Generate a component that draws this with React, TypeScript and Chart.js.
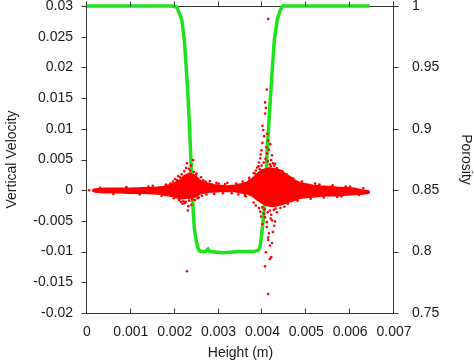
import { useEffect, useRef } from 'react';
import { Chart, registerables } from 'chart.js';

Chart.register(...registerables);

// ---- tick labels ----
const xTicks = [0, 0.001, 0.002, 0.003, 0.004, 0.005, 0.006, 0.007];
const xTickLabels = ['0', '0.001', '0.002', '0.003', '0.004', '0.005', '0.006', '0.007'];
const yTicks = [-0.02, -0.015, -0.01, -0.005, 0, 0.005, 0.01, 0.015, 0.02, 0.025, 0.03];
const yTickLabels = ['-0.02', '-0.015', '-0.01', '-0.005', '0', '0.005', '0.01', '0.015', '0.02', '0.025', '0.03'];
const y1Ticks = [0.75, 0.8, 0.85, 0.9, 0.95, 1];
const y1TickLabels = ['0.75', '0.8', '0.85', '0.9', '0.95', '1'];

// ---- porosity (green) ----
const porX = [0, 0.00195, 0.00205, 0.00216, 0.00222, 0.00226, 0.0023, 0.00233, 0.00236, 0.00239, 0.00242, 0.00245, 0.0025, 0.00254, 0.00258, 0.0027, 0.00276, 0.0028, 0.0031, 0.0035, 0.0038, 0.0039, 0.00394, 0.00397, 0.004, 0.00404, 0.00408, 0.00411, 0.00415, 0.00419, 0.00423, 0.00427, 0.00434, 0.0044, 0.00446, 0.00645];
const porY = [1, 1, 0.999, 0.989, 0.972, 0.951, 0.929, 0.907, 0.883, 0.858, 0.834, 0.818, 0.807, 0.802, 0.8, 0.8, 0.802, 0.8, 0.799, 0.8, 0.8, 0.801, 0.803, 0.81, 0.82, 0.834, 0.858, 0.883, 0.907, 0.929, 0.951, 0.972, 0.989, 0.996, 1, 1];

// ---- vertical velocity dense band (red) ----
const bandX = [0.00012, 0.00018, 0.0004, 0.0007, 0.001, 0.0013, 0.0016, 0.00175, 0.00185, 0.00194, 0.00203, 0.00212, 0.00218, 0.00223, 0.00229, 0.00235, 0.0024, 0.00246, 0.00252, 0.00258, 0.0027, 0.0028, 0.0029, 0.00303, 0.0032, 0.00337, 0.0035, 0.00365, 0.00375, 0.00383, 0.0039, 0.00399, 0.00408, 0.00417, 0.00428, 0.0044, 0.0045, 0.00463, 0.00475, 0.00486, 0.005, 0.00515, 0.0053, 0.00554, 0.0057, 0.00593, 0.0061, 0.00629, 0.0064, 0.00645];
const bandUpper = [0.0, 0.0002, 0.0003, 0.0003, 0.0003, 0.0004, 0.0005, 0.0006, 0.0008, 0.001, 0.0013, 0.0017, 0.0021, 0.0024, 0.0026, 0.0028, 0.0026, 0.0024, 0.002, 0.0016, 0.0012, 0.0011, 0.0009, 0.0008, 0.0007, 0.0008, 0.001, 0.0013, 0.0018, 0.0023, 0.0028, 0.0033, 0.0035, 0.0036, 0.0035, 0.0033, 0.0028, 0.0022, 0.0016, 0.0012, 0.001, 0.0008, 0.0007, 0.0006, 0.0005, 0.0004, 0.0003, 0.0, -0.0001, -0.0002];
const bandLower = [-0.0001, -0.0003, -0.0004, -0.0004, -0.0005, -0.0005, -0.0006, -0.0008, -0.0009, -0.001, -0.0012, -0.0014, -0.0014, -0.0013, -0.0013, -0.0013, -0.0012, -0.0011, -0.0009, -0.0006, -0.0004, -0.0003, -0.0003, -0.0002, -0.0002, -0.0002, -0.0004, -0.0006, -0.0009, -0.0013, -0.0017, -0.0021, -0.0024, -0.0026, -0.0026, -0.0024, -0.0022, -0.0019, -0.0016, -0.0013, -0.0012, -0.0011, -0.001, -0.0009, -0.0009, -0.0008, -0.0007, -0.0006, -0.0005, -0.0004];

// ---- vertical velocity scattered points (red) [x, v] ----
const leftBlobPts = [
  [0.00205, 0.0016], [0.0021, -0.0016], [0.00212, 0.0021], [0.00216, 0.0026], [0.0022, -0.0018],
  [0.00222, 0.0031], [0.00225, -0.0019], [0.00228, 0.0044], [0.0023, -0.0033], [0.00232, 0.0035],
  [0.00223, -0.0021], [0.00235, 0.0032], [0.00238, -0.0024], [0.00242, 0.0049], [0.00246, -0.0016],
  [0.0025, 0.0027], [0.00255, -0.0012], [0.0026, 0.0021], [0.00265, 0.0016], [0.0019, 0.0011],
  [0.00198, -0.0013], [0.00244, 0.003], [0.00218, -0.0022], [0.00228, -0.0132],
  [0.00201, 0.0018], [0.00208, 0.0023], [0.00214, -0.0019], [0.00226, 0.0036], [0.00233, -0.0017],
  [0.00237, 0.004], [0.0024, -0.0015], [0.00248, 0.0025], [0.00252, -0.0013], [0.00262, -0.0009],
  [0.0027, 0.0014], [0.00272, -0.0007], [0.00196, 0.0014], [0.00231, -0.0026],
];
const middlePts = [
  [0.0028, 0.0015], [0.0029, -0.0006], [0.003, 0.0011], [0.0031, -0.0005], [0.0032, 0.0012],
  [0.0033, -0.0005], [0.0034, 0.0011], [0.0036, -0.0008], [0.0037, 0.0016], [0.00295, 0.0012],
  [0.00315, 0.001], [0.00345, -0.0007], [0.00355, 0.0014], [0.00362, -0.001],
];
const rightUpperPts = [
  [0.00413, 0.0279], [0.0041, 0.0164], [0.00406, 0.0143], [0.00408, 0.0134], [0.00406, 0.0125],
  [0.00402, 0.0098], [0.004, 0.0077], [0.00413, 0.0081], [0.0041, 0.006], [0.00422, 0.0057],
  [0.00395, 0.0052], [0.00424, 0.0044], [0.00388, 0.0037], [0.00433, 0.0036], [0.00404, 0.0088],
  [0.00409, 0.007], [0.00398, 0.0065], [0.00415, 0.0066], [0.00392, 0.0045], [0.0042, 0.0049],
  [0.0043, 0.0028], [0.0038, 0.0028], [0.0044, 0.0022], [0.0037, 0.002], [0.00418, 0.0075],
  [0.004, 0.0105], [0.00411, 0.0092], [0.00396, 0.0058], [0.00427, 0.004], [0.00385, 0.0032],
  [0.00403, 0.0045], [0.00417, 0.0042], [0.00398, 0.004], [0.00445, 0.0031], [0.00455, 0.0026],
  [0.00391, 0.0039], [0.00407, 0.0051], [0.00419, 0.0039], [0.00429, 0.0043], [0.00436, 0.0033],
  [0.00383, 0.0027], [0.00412, 0.0047], [0.00394, 0.0034], [0.00448, 0.0028], [0.0046, 0.0021],
];
const rightLowerPts = [
  [0.004, -0.0028], [0.00417, -0.0033], [0.00406, -0.0044], [0.00422, -0.0049], [0.0041, -0.006],
  [0.00424, -0.0068], [0.00413, -0.0077], [0.00422, -0.0086], [0.00413, -0.0081], [0.00417, -0.009],
  [0.00408, -0.0101], [0.0042, -0.0109], [0.00417, -0.0112], [0.00406, -0.0124], [0.00413, -0.0169],
  [0.00395, -0.0035], [0.0043, -0.003], [0.00385, -0.0025], [0.00435, -0.0022], [0.0041, -0.0052],
  [0.00403, -0.0038], [0.0042, -0.004], [0.00427, -0.0058], [0.004, -0.0055], [0.00415, -0.007],
  [0.0044, -0.0018], [0.0038, -0.002], [0.00412, -0.0036], [0.00426, -0.0032], [0.0045, -0.0027],
  [0.00392, -0.0029], [0.00405, -0.0031], [0.00419, -0.0046], [0.00433, -0.0036], [0.00441, -0.0029],
  [0.00458, -0.0022], [0.00397, -0.0043], [0.00429, -0.0051],
];
const tailPts = [
  [0.00005, 0.0], [0.0003, 0.0004], [0.0006, -0.0006], [0.0009, 0.0005], [0.0012, -0.0007],
  [0.0015, 0.0007], [0.0017, -0.0009], [0.0047, 0.0019], [0.0048, -0.0017], [0.0049, 0.0014],
  [0.0051, -0.0014], [0.0052, 0.0011], [0.0054, -0.0012], [0.0056, 0.0008], [0.0058, -0.001],
  [0.006, 0.0006], [0.0062, -0.0008], [0.0063, 0.0003], [0.0014, 0.0006], [0.0018, 0.0009],
  [0.0053, 0.0009], [0.0057, -0.0011], [0.0059, 0.0006],
];

const RED = '#ff0000';
const GREEN = '#1fe21f';
const FONT = 'Liberation Sans, Arial, Helvetica, sans-serif';
const TEXT = '#1a1a1a';

const framePlugin = {
  id: 'frame',
  beforeDatasetsDraw(chart: any) {
    const { ctx, chartArea } = chart;
    const l = Math.round(chartArea.left) - 0.5;
    const r = Math.round(chartArea.right) - 0.5;
    const t = Math.round(chartArea.top) + 0.5;
    const b = Math.round(chartArea.bottom) + 0.5;
    ctx.save();
    ctx.strokeStyle = '#333';
    ctx.lineWidth = 1;
    ctx.strokeRect(l, t, r - l, b - t);
    ctx.restore();
  },
  afterDatasetsDraw(chart: any) {
    const { ctx, chartArea, scales } = chart;
    const l = Math.round(chartArea.left) - 0.5;
    const r = Math.round(chartArea.right) - 0.5;
    const t = Math.round(chartArea.top) + 0.5;
    const b = Math.round(chartArea.bottom) + 0.5;
    ctx.save();
    ctx.strokeStyle = '#333';
    ctx.lineWidth = 1;
    ctx.beginPath();
    xTicks.forEach((v) => {
      const px = Math.round(scales.x.getPixelForValue(v)) - 0.5;
      ctx.moveTo(px, b);
      ctx.lineTo(px, b - 5);
      ctx.moveTo(px, t);
      ctx.lineTo(px, t - 5);
    });
    yTicks.forEach((v) => {
      const py = Math.round(scales.y.getPixelForValue(v)) + 0.5;
      ctx.moveTo(l, py);
      ctx.lineTo(l - 5, py);
    });
    y1Ticks.forEach((v) => {
      const py = Math.round(scales.y1.getPixelForValue(v)) + 0.5;
      ctx.moveTo(r, py);
      ctx.lineTo(r + 5, py);
    });
    ctx.stroke();
    ctx.restore();
  },
};

export default function App() {
  const ref = useRef<HTMLCanvasElement | null>(null);

  useEffect(() => {
    document.body.style.margin = '0';
    const canvas = ref.current;
    if (!canvas) return;

    const toPts = (arr: number[][]) => arr.map(([x, y]) => ({ x, y }));
    const scatterPts = [
      ...toPts(leftBlobPts),
      ...toPts(middlePts),
      ...toPts(rightUpperPts),
      ...toPts(rightLowerPts),
      ...toPts(tailPts),
    ];

    const chart = new Chart(canvas, {
      type: 'line',
      data: {
        datasets: [
          {
            type: 'scatter',
            label: 'velocity points',
            data: scatterPts,
            xAxisID: 'x',
            yAxisID: 'y',
            pointRadius: 1.3,
            pointBorderWidth: 0,
            pointBackgroundColor: RED,
            backgroundColor: RED,
            showLine: false,
            order: 1,
          } as any,
          {
            type: 'line',
            label: 'velocity upper',
            data: bandX.map((x, i) => ({ x, y: bandUpper[i] })),
            xAxisID: 'x',
            yAxisID: 'y',
            borderColor: RED,
            backgroundColor: RED,
            borderWidth: 1.5,
            pointRadius: 0,
            fill: '+1',
            order: 2,
          },
          {
            type: 'line',
            label: 'velocity lower',
            data: bandX.map((x, i) => ({ x, y: bandLower[i] })),
            xAxisID: 'x',
            yAxisID: 'y',
            borderColor: RED,
            backgroundColor: RED,
            borderWidth: 1.5,
            pointRadius: 0,
            fill: false,
            order: 3,
          },
          {
            type: 'line',
            label: 'porosity',
            data: porX.map((x, i) => ({ x, y: porY[i] })),
            xAxisID: 'x',
            yAxisID: 'y1',
            borderColor: GREEN,
            borderWidth: 3.5,
            pointRadius: 0,
            fill: false,
            tension: 0,
            clip: false,
            order: 4,
          } as any,
        ],
      },
      options: {
        animation: false,
        responsive: false,
        maintainAspectRatio: false,
        layout: { padding: { top: 6, left: 0, right: 0, bottom: 0 } },
        plugins: {
          legend: { display: false },
          tooltip: { enabled: false },
        },
        scales: {
          x: {
            type: 'linear',
            position: 'bottom',
            min: 0,
            max: 0.007,
            grid: { display: false, drawTicks: false },
            border: { display: false },
            afterBuildTicks: (s: any) => { s.ticks = xTicks.map((value) => ({ value })); },
            afterFit: (s: any) => { s.height = 50; s.paddingLeft = 0; s.paddingRight = 0; },
            ticks: {
              padding: 11,
              color: TEXT,
              font: { family: FONT, size: 14 },
              maxRotation: 0,
              autoSkip: false,
              callback: (_v: any, i: number) => xTickLabels[i],
            },
            title: {
              display: true,
              text: 'Height (m)',
              color: TEXT,
              font: { family: FONT, size: 14 },
              padding: { top: 0, bottom: 1 },
            },
          },
          y: {
            type: 'linear',
            position: 'left',
            min: -0.02,
            max: 0.03,
            grid: { display: false, drawTicks: false },
            border: { display: false },
            afterBuildTicks: (s: any) => { s.ticks = yTicks.map((value) => ({ value })); },
            afterFit: (s: any) => { s.width = 87; s.paddingTop = 0; s.paddingBottom = 0; },
            ticks: {
              padding: 14,
              color: TEXT,
              font: { family: FONT, size: 14 },
              autoSkip: false,
              callback: (_v: any, i: number) => yTickLabels[i],
            },
            title: {
              display: true,
              text: 'Vertical Velocity',
              color: TEXT,
              font: { family: FONT, size: 14 },
              padding: { top: 4, bottom: 0 },
            },
          },
          y1: {
            type: 'linear',
            position: 'right',
            min: 0.75,
            max: 1,
            grid: { display: false, drawTicks: false },
            border: { display: false },
            afterBuildTicks: (s: any) => { s.ticks = y1Ticks.map((value) => ({ value })); },
            afterFit: (s: any) => { s.width = 80; s.paddingTop = 0; s.paddingBottom = 0; },
            ticks: {
              padding: 18,
              color: TEXT,
              font: { family: FONT, size: 14 },
              autoSkip: false,
              callback: (_v: any, i: number) => y1TickLabels[i],
            },
            title: {
              display: true,
              text: 'Porosity',
              color: TEXT,
              font: { family: FONT, size: 14 },
              padding: { top: 0, bottom: 0 },
            },
          },
        },
      },
      plugins: [framePlugin],
    });

    return () => chart.destroy();
  }, []);

  return (
    <div style={{ position: 'absolute', left: 0, top: 0, width: 474, height: 363 }}>
      <canvas ref={ref} width={474} height={363} />
    </div>
  );
}
